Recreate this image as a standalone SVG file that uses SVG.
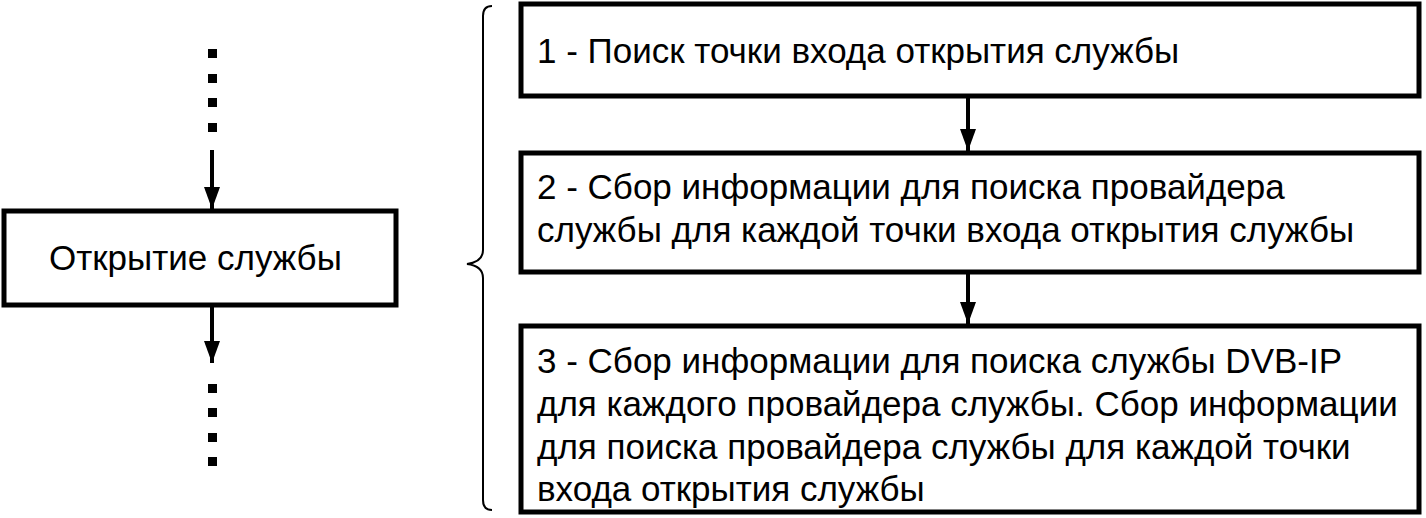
<svg xmlns="http://www.w3.org/2000/svg" width="1426" height="518" viewBox="0 0 1426 518">
<style>
.b{fill:#fff;stroke:#000;stroke-width:5}
.t{font-family:"Liberation Sans",Arial,sans-serif;font-size:35px;fill:#000}
.c{stroke:#000;stroke-width:4;fill:none}
</style>
<defs><marker id="a" viewBox="0 0 22 16" refX="22" refY="8" markerWidth="22" markerHeight="16" orient="auto" markerUnits="userSpaceOnUse"><path d="M0,0L22,8L0,16z" fill="#000"/></marker></defs>
<rect width="1426" height="518" fill="#fff"/>
<g id="n0"><rect class="b" x="4" y="211" width="392" height="94"/><text class="t" x="49" y="270">Открытие службы</text></g>
<g id="n1"><rect class="b" x="521" y="4" width="898" height="92"/><text class="t" x="537" y="63">1 - Поиск точки входа открытия службы</text></g>
<g id="n2"><rect class="b" x="521" y="153" width="898" height="119"/><text class="t" x="537" y="199">2 - Сбор информации для поиска провайдера</text><text class="t" x="537" y="242">службы для каждой точки входа открытия службы</text></g>
<g id="n3"><rect class="b" x="521" y="326" width="898" height="186"/><text class="t" x="537" y="373">3 - Сбор информации для поиска службы DVB-IP</text><text class="t" x="537" y="416">для каждого провайдера службы. Сбор информации</text><text class="t" x="537" y="459">для поиска провайдера службы для каждой точки</text><text class="t" x="537" y="501">входа открытия службы</text></g>
<g id="connectors">
<line class="c" x1="212" y1="150" x2="212" y2="209" marker-end="url(#a)"/>
<line class="c" x1="212" y1="307" x2="212" y2="363" marker-end="url(#a)"/>
<line class="c" x1="968" y1="98" x2="968" y2="151" marker-end="url(#a)"/>
<line class="c" x1="968" y1="274" x2="968" y2="324" marker-end="url(#a)"/>
<g fill="#000"><rect x="208" y="49" width="9" height="9"/><rect x="208" y="74" width="9" height="9"/><rect x="208" y="98" width="9" height="9"/><rect x="208" y="123" width="9" height="9"/><rect x="208" y="384" width="9" height="9"/><rect x="208" y="408" width="9" height="9"/><rect x="208" y="433" width="9" height="9"/><rect x="208" y="457" width="9" height="9"/></g>
<path d="M492,6 Q483,6 483,16 L483,250 Q483,262 467,264 Q483,266 483,278 L483,500 Q483,510 492,510" fill="none" stroke="#000" stroke-width="2"/>
</g>
</svg>
